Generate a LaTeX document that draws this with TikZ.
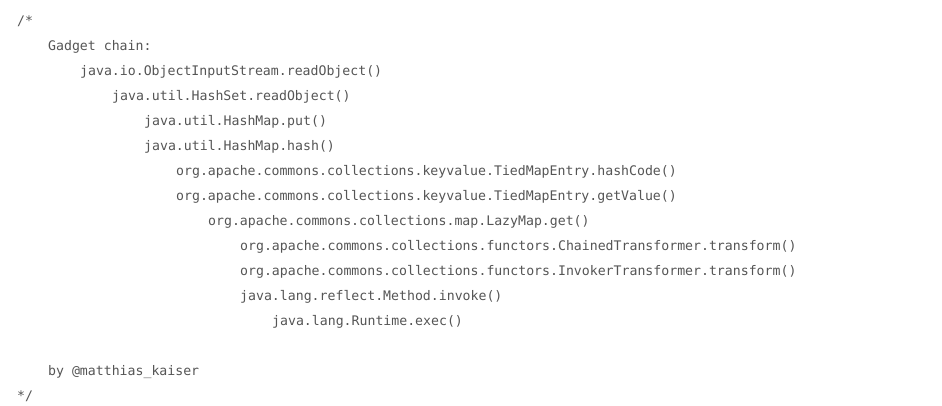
\documentclass[tikz,border=0pt]{standalone}
\usepackage{fontspec}
\setmonofont{DejaVu Sans Mono}
\definecolor{codegray}{HTML}{555555}
\tikzset{codeline/.style={anchor=base west,inner sep=0pt,text=codegray,font=\ttfamily\fontsize{13.2}{15}\selectfont}}
\begin{document}
\begin{tikzpicture}[x=1pt,y=-1pt]
\fill[white] (0,0) rectangle (942,405);
\useasboundingbox (0,0) rectangle (942,405);
\node[codeline] (c0) at (17,25) {/*};
\node[codeline] (c1) at (48,50) {Gadget chain:};
\node[codeline] (c2) at (80,75) {java.io.ObjectInputStream.readObject()};
\node[codeline] (c3) at (112,100) {java.util.HashSet.readObject()};
\node[codeline] (c4) at (144,125) {java.util.HashMap.put()};
\node[codeline] (c5) at (144,150) {java.util.HashMap.hash()};
\node[codeline] (c6) at (176,175) {org.apache.commons.collections.keyvalue.TiedMapEntry.hashCode()};
\node[codeline] (c7) at (176,200) {org.apache.commons.collections.keyvalue.TiedMapEntry.getValue()};
\node[codeline] (c8) at (208,225) {org.apache.commons.collections.map.LazyMap.get()};
\node[codeline] (c9) at (240,250) {org.apache.commons.collections.functors.ChainedTransformer.transform()};
\node[codeline] (c10) at (240,275) {org.apache.commons.collections.functors.InvokerTransformer.transform()};
\node[codeline] (c11) at (240,300) {java.lang.reflect.Method.invoke()};
\node[codeline] (c12) at (272,325) {java.lang.Runtime.exec()};
\node[codeline] (c13) at (48,375) {by @matthias\_kaiser};
\node[codeline] (c14) at (17,400) {*/};
\end{tikzpicture}
\end{document}
